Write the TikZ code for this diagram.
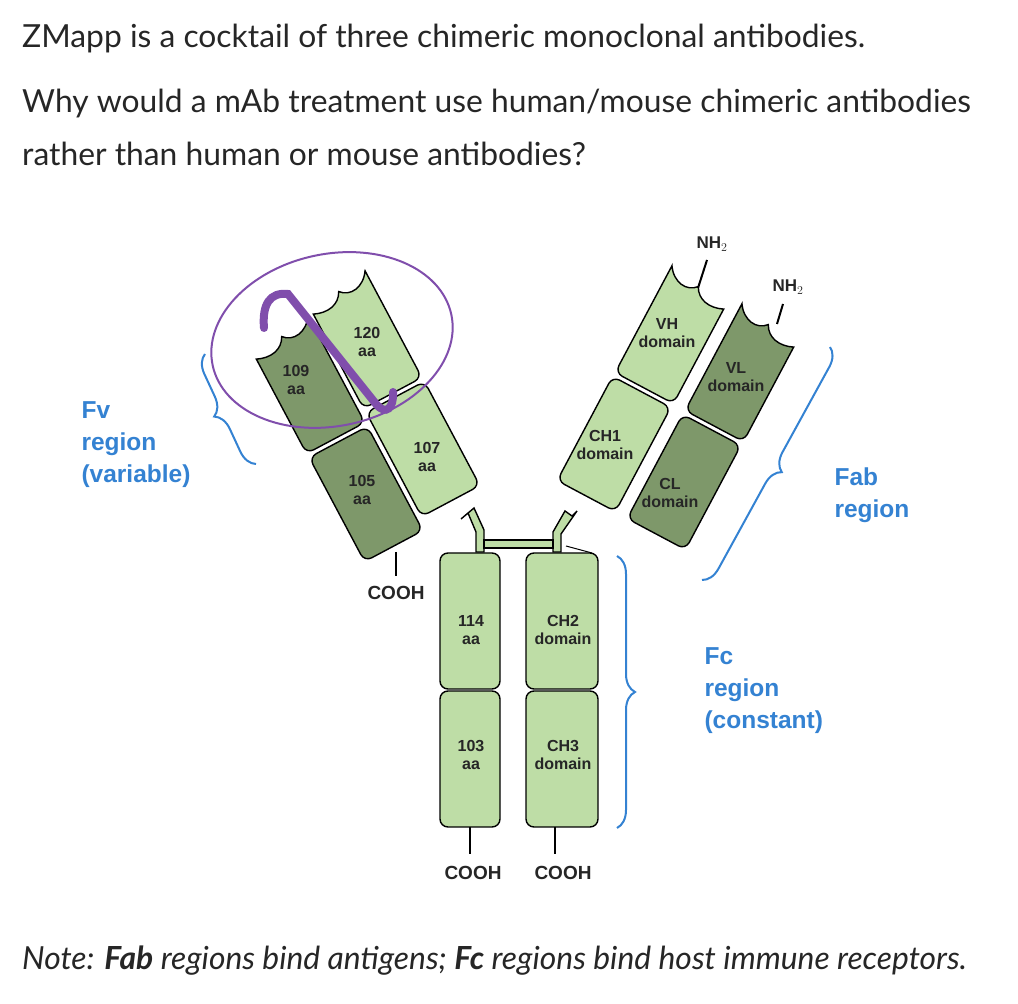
\documentclass[tikz,border=0pt]{standalone}
\usepackage{fontspec}
\setmainfont{Lato}
\newfontfamily\arial{Liberation Sans}
\usetikzlibrary{decorations.pathreplacing}
\definecolor{lg}{RGB}{190,221,166}
\definecolor{dg}{RGB}{126,152,106}
\definecolor{bl}{RGB}{52,130,210}
\definecolor{pu}{RGB}{128,78,172}
\newcommand\vdom[5]{% cx cy rot colour xscale
\begin{scope}[shift={(#1,#2)},rotate=#3,xscale=#5]
\filldraw[fill=#4,draw=black,line width=1.4] (33,62) [rounded corners=8]-- (33,-59) -- (-33,-59) [sharp corners]-- (-33,48)
 .. controls (-20,42) and (-6,44) .. (0,56) .. controls (8,46) and (24,48) .. cycle;
\end{scope}}
\newcommand\cdom[4]{% cx cy rot colour
\begin{scope}[shift={(#1,#2)},rotate=#3]
\filldraw[fill=#4,draw=black,line width=1.4,rounded corners=8] (-33,-59) rectangle (33,59);
\end{scope}}
\tikzset{cd/.style={draw=black,line width=1.4,rounded corners=8,inner sep=0},
 lab/.style={font=\arial\bfseries\fontsize{16}{18}\selectfont,align=center,text=black!85},
 blab/.style={font=\arial\bfseries\fontsize{24.5}{32}\selectfont,align=left,text=bl,anchor=north west},
 br/.style={draw=bl,line width=2,decorate,decoration={brace,amplitude=18}}}
\begin{document}
\begin{tikzpicture}[x=1pt,y=1pt]
\useasboundingbox (0,0) rectangle (1018,1004);
% title
\node[anchor=base west,inner sep=0,font=\fontsize{31.8}{34}\selectfont,text=black!85] (t1) at (22,956) {ZMapp is a cocktail of three chimeric monoclonal antibodies.};
\node[anchor=base west,inner sep=0,font=\fontsize{31.8}{34}\selectfont,text=black!85] (t2) at (22,891) {Why would a mAb treatment use human/mouse chimeric antibodies};
\node[anchor=base west,inner sep=0,font=\fontsize{31.8}{34}\selectfont,text=black!85] (t3) at (22,838) {rather than human or mouse antibodies?};
\node[anchor=base west,inner sep=0,font=\itshape\fontsize{31.8}{34}\selectfont,text=black!85] (t4) at (22,34) {Note: \textbf{Fab} regions bind antigens; \textbf{Fc} regions bind host immune receptors.};
% hinge
\draw[line width=1.4,fill=lg] (461,485) -- (468,491) -- (476,472) -- (476,452) -- (484,452) -- (484,474) -- (474,496) -- cycle;
\draw[line width=1.4,fill=lg] (572,488) -- (565,493) -- (553,472) -- (553,452) -- (561,452) -- (561,470) -- (577,493) -- cycle;
\draw[line width=1.4,fill=lg] (484,456) rectangle (553,464);
% stems
\node[cd,fill=lg,minimum width=60,minimum height=136] (s1) at (470,383) {};
\node[cd,fill=lg,minimum width=60,minimum height=136] (s2) at (470,245) {};
\node[cd,fill=lg,minimum width=72,minimum height=136] (s3) at (562,383) {};
\node[cd,fill=lg,minimum width=72,minimum height=136] (s4) at (562,245) {};
\draw[line width=1.5] (470,177) -- (470,150);
\draw[line width=1.5] (555,177) -- (555,150);
\draw[line width=1] (566,458) -- (592,451);
% left arm
\cdom{366}{510}{28}{dg}
\cdom{423}{555}{28}{lg}
\vdom{308}{618}{28}{dg}{1}
\vdom{365}{663}{28}{lg}{1}
\draw[line width=1.6] (396,452) -- (396,428);
% right arm
\cdom{614}{560}{-28}{lg}
\cdom{684}{522}{-28}{dg}
\vdom{672}{668}{-28}{lg}{-1}
\vdom{742}{630}{-28}{dg}{-1}
\draw[line width=2] (707,744) -- (698,716);
\draw[line width=2] (783,700) -- (777,680);
% labels
\node[lab] (a120) at (367,662) {120\\aa};
\node[lab] (a109) at (296,624) {109\\aa};
\node[lab] (a105) at (362,514) {105\\aa};
\node[lab] (a107) at (427,547) {107\\aa};
\node[lab] (vh) at (667,671) {VH\\domain};
\node[lab] (vl) at (736,627) {VL\\domain};
\node[lab] (ch1) at (605,559) {CH1\\domain};
\node[lab] (cl) at (670,511) {CL\\domain};
\node[lab] (a114) at (471,374) {114\\aa};
\node[lab] (ch2) at (563,374) {CH2\\domain};
\node[lab] (a103) at (471,249) {103\\aa};
\node[lab] (ch3) at (563,249) {CH3\\domain};
\node[lab,font=\arial\bfseries\fontsize{19}{21}\selectfont] (c1) at (396,411) {COOH};
\node[lab,font=\arial\bfseries\fontsize{19}{21}\selectfont] (c2) at (473,131) {COOH};
\node[lab,font=\arial\bfseries\fontsize{19}{21}\selectfont] (c3) at (563,131) {COOH};
\node[lab,font=\arial\bfseries\fontsize{17}{19}\selectfont] (n1) at (712,760) {NH$_2$};
\node[lab,font=\arial\bfseries\fontsize{17}{19}\selectfont] (n2) at (788,717) {NH$_2$};
% purple
\draw[pu,line width=2] (332,664) ellipse[x radius=122,y radius=86,rotate=12];
\draw[pu,line width=8,line cap=round] (264,676) .. controls (262,700) and (270,712) .. (288,710) -- (376,600) .. controls (386,588) and (394,596) .. (393,612);
% braces and blue labels
\draw[br] (256,540) -- (205,650);
\draw[br] (830,657) -- (702,424);
\draw[br] (617,448) -- (617,176);
\node[blab] (fv) at (78,606) {Fv\\region\\(variable)};
\node[blab] (fab) at (831,540) {Fab\\region};
\node[blab] (fc) at (701,360) {Fc\\region\\(constant)};
\end{tikzpicture}
\end{document}
